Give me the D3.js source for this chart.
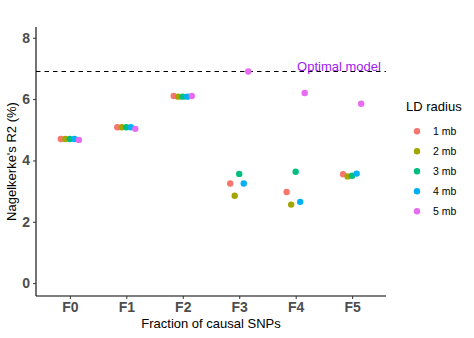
<!DOCTYPE html>
<html><head><meta charset="utf-8">
<script src="https://cdn.jsdelivr.net/npm/d3@7"></script>
<style>body{margin:0;background:#fff}svg{display:block;font-family:"Liberation Sans",Arial,sans-serif}</style>
</head><body><svg id="c" width="474" height="338"></svg>
<script>
const categories = ["F0","F1","F2","F3","F4","F5"];
const groups = ["1 mb","2 mb","3 mb","4 mb","5 mb"];
const colors = ["#F8766D","#A3A500","#00BF7D","#00B0F6","#E76BF3"];
const r1mb = [4.70, 5.08, 6.10, 3.25, 2.97, 3.55];
const r2mb = [4.70, 5.08, 6.08, 2.85, 2.56, 3.48];
const r3mb = [4.70, 5.08, 6.08, 3.56, 3.63, 3.50];
const r4mb = [4.70, 5.08, 6.08, 3.25, 2.65, 3.57];
const r5mb = [4.67, 5.03, 6.10, 6.90, 6.20, 5.85];
const yTicks = [0, 2, 4, 6, 8];
const optimal = 6.9;
const optimalLabel = "Optimal model";

(function(){
const series = [r1mb, r2mb, r3mb, r4mb, r5mb];
const svg = d3.select("#c");
const pl = 36, pr = 386, pt = 27, pb = 296;
const x = d3.scalePoint().domain(categories).range([pl, pr]).padding(0.6);
const step = x.step();
const dodge = d3.scaleBand().domain(groups).range([-0.2*step, 0.2*step]);
const y = d3.scaleLinear().domain([-0.42, 8.35]).range([pb, pt]);

const xa = svg.append("g").attr("transform", `translate(0,${pb})`)
  .call(d3.axisBottom(x).tickSize(3).tickPadding(3).tickSizeOuter(0));
const ya = svg.append("g").attr("transform", `translate(${pl},0)`)
  .call(d3.axisLeft(y).tickValues(yTicks).tickSize(3).tickPadding(3).tickSizeOuter(0));
[xa, ya].forEach(a => {
  a.select(".domain").attr("stroke", "#000").attr("stroke-width", 1.1);
  a.selectAll(".tick line").attr("stroke", "#333");
  a.selectAll(".tick text").attr("fill", "#4D4D4D").attr("font-size", 14).attr("font-weight", "bold")
   .attr("font-family", '"Liberation Sans",Arial,sans-serif');
});
xa.select(".domain").attr("d", `M${pl},0H${pr}`);
ya.select(".domain").attr("d", `M0,${pb}V${pt}`);

svg.append("line").attr("x1", pl).attr("x2", pr).attr("y1", y(optimal)).attr("y2", y(optimal))
  .attr("stroke", "#000").attr("stroke-width", 1.2).attr("stroke-dasharray", "4.5,4");
svg.append("text").attr("x", 339).attr("y", y(optimal) - 0.5).attr("text-anchor", "middle")
  .attr("fill", "#A020F0").attr("font-size", 13).text(optimalLabel);

series.forEach((vals, gi) => {
  svg.append("g").selectAll("circle").data(vals).join("circle")
    .attr("cx", (d, i) => x(categories[i]) + dodge(groups[gi]) + dodge.bandwidth()/2)
    .attr("cy", d => y(d)).attr("r", 3.2).attr("fill", colors[gi]);
});

svg.append("text").attr("x", (pl+pr)/2).attr("y", 328).attr("text-anchor", "middle")
  .attr("font-size", 13).attr("fill", "#000").text("Fraction of causal SNPs");
svg.append("text").attr("transform", `translate(16,${(pt+pb)/2}) rotate(-90)`)
  .attr("text-anchor", "middle").attr("font-size", 13).attr("fill", "#000").text("Nagelkerke's R2 (%)");

const lg = svg.append("g");
lg.append("text").attr("x", 406).attr("y", 111).attr("font-size", 13).attr("fill", "#000").text("LD radius");
groups.forEach((g, i) => {
  lg.append("circle").attr("cx", 417).attr("cy", 131.3 + i*20).attr("r", 3.2).attr("fill", colors[i]);
  lg.append("text").attr("x", 433).attr("y", 131.3 + i*20 + 3.8).attr("font-size", 10.5).attr("fill", "#000").text(g);
});
})();
</script></body></html>
